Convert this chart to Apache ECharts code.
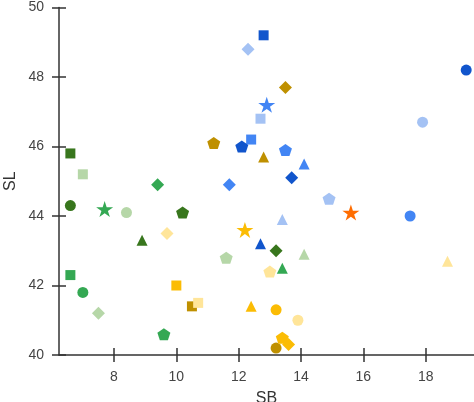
<!DOCTYPE html>
<html>
<head>
<meta charset="utf-8">
<script src="https://cdn.jsdelivr.net/npm/echarts@6/dist/echarts.min.js"></script>
<style>html,body{margin:0;padding:0;background:#fff}#c{width:474px;height:402px}</style>
</head>
<body>
<div id="c"></div>
<script>
// group codes: DG/G/LG = dark/mid/light green, DY/Y/LY = dark/mid/light yellow, DB/B/LB = dark/mid/light blue, O = orange
const xTicks = [8, 10, 12, 14, 16, 18];
const yTicks = [40, 42, 44, 46, 48, 50];
const circles = [[6.6,44.3,'DG'],[7.0,41.8,'G'],[8.4,44.1,'LG'],[13.2,40.2,'DY'],[13.2,41.3,'Y'],[13.9,41.0,'LY'],[19.3,48.2,'DB'],[17.5,44.0,'B'],[17.9,46.7,'LB']];
const squares = [[6.6,45.8,'DG'],[6.6,42.3,'G'],[7.0,45.2,'LG'],[10.5,41.4,'DY'],[10.0,42.0,'Y'],[10.7,41.5,'LY'],[12.8,49.2,'DB'],[12.4,46.2,'B'],[12.7,46.8,'LB']];
const diamonds = [[13.2,43.0,'DG'],[9.4,44.9,'G'],[7.5,41.2,'LG'],[13.5,47.7,'DY'],[13.6,40.3,'Y'],[9.7,43.5,'LY'],[13.7,45.1,'DB'],[11.7,44.9,'B'],[12.3,48.8,'LB']];
const triangles = [[8.9,43.3,'DG'],[13.4,42.5,'G'],[14.1,42.9,'LG'],[12.8,45.7,'DY'],[12.4,41.4,'Y'],[18.7,42.7,'LY'],[12.7,43.2,'DB'],[14.1,45.5,'B'],[13.4,43.9,'LB']];
const pentagons = [[10.2,44.1,'DG'],[9.6,40.6,'G'],[11.6,42.8,'LG'],[11.2,46.1,'DY'],[13.4,40.5,'Y'],[13.0,42.4,'LY'],[12.1,46.0,'DB'],[13.5,45.9,'B'],[14.9,44.5,'LB']];
const stars = [[7.7,44.2,'G'],[12.2,43.6,'Y'],[12.9,47.2,'B'],[15.6,44.1,'O']];

const colors = {DG:'#38761d',G:'#34a853',LG:'#b6d7a8',DY:'#bf9000',Y:'#fbbc04',LY:'#ffe599',DB:'#1155cc',B:'#4285f4',LB:'#a4c2f4',O:'#ff6d01'};
const pentPath = 'path://M0,-100L95.1,-30.9L58.8,80.9L-58.8,80.9L-95.1,-30.9Z';
function starPath(){
  let p=[];
  for(let i=0;i<10;i++){const r=i%2?38.2:100;const a=-Math.PI/2+i*Math.PI/5;p.push((r*Math.cos(a)).toFixed(2)+','+(r*Math.sin(a)).toFixed(2));}
  return 'path://M'+p.join('L')+'Z';
}
const shapeDefs = [
  {name:'circle', data:circles, symbol:'circle', size:11},
  {name:'square', data:squares, symbol:'rect', size:10},
  {name:'diamond', data:diamonds, symbol:'diamond', size:13},
  {name:'triangle', data:triangles, symbol:'triangle', size:11},
  {name:'pentagon', data:pentagons, symbol:pentPath, size:[13,12]},
  {name:'star', data:stars, symbol:starPath(), size:[17,16]}
];
const series = shapeDefs.map(s => ({
  type:'scatter', name:s.name, symbol:s.symbol, symbolSize:s.size,
  data:s.data.map(d => ({value:[d[0],d[1]], itemStyle:{color:colors[d[2]], opacity:1}})),
  emphasis:{disabled:true}
}));
const labelStyle = {color:'#444', fontSize:14, fontFamily:'Liberation Sans, Arial, sans-serif'};
const nameStyle = {color:'#333', fontSize:16, fontFamily:'Liberation Sans, Arial, sans-serif'};
const lineStyle = {color:'#333', width:1.5};
const chart = echarts.init(document.getElementById('c'), null, {renderer:'canvas'});
chart.setOption({
  animation:false,
  grid:{left:59, right:0, top:7.5, bottom:47, containLabel:false, outerBoundsMode:'none'},
  xAxis:[
    {type:'value', min:6.235, max:19.55, name:'SB', nameLocation:'middle', nameGap:36, nameMoveOverlap:false,
     nameTextStyle:nameStyle,
     axisLine:{show:true, lineStyle}, splitLine:{show:false},
     axisTick:{show:true, length:7, lineStyle, customValues:xTicks},
     axisLabel:Object.assign({customValues:xTicks, margin:15}, labelStyle)},
    {type:'value', min:6.235, max:19.55, position:'bottom',
     axisLine:{show:false}, splitLine:{show:false}, axisLabel:{show:false},
     axisTick:{show:true, inside:true, length:7, lineStyle, customValues:xTicks}}
  ],
  yAxis:[
    {type:'value', min:40, max:50, name:'SL', nameLocation:'middle', nameGap:40, nameMoveOverlap:false,
     nameTextStyle:nameStyle,
     axisLine:{show:true, lineStyle}, splitLine:{show:false},
     axisTick:{show:true, length:7, lineStyle, customValues:yTicks},
     axisLabel:Object.assign({customValues:yTicks, margin:15}, labelStyle)},
    {type:'value', min:40, max:50, position:'left',
     axisLine:{show:false}, splitLine:{show:false}, axisLabel:{show:false},
     axisTick:{show:true, inside:true, length:7, lineStyle, customValues:yTicks}}
  ],
  series
});
</script>
</body>
</html>
